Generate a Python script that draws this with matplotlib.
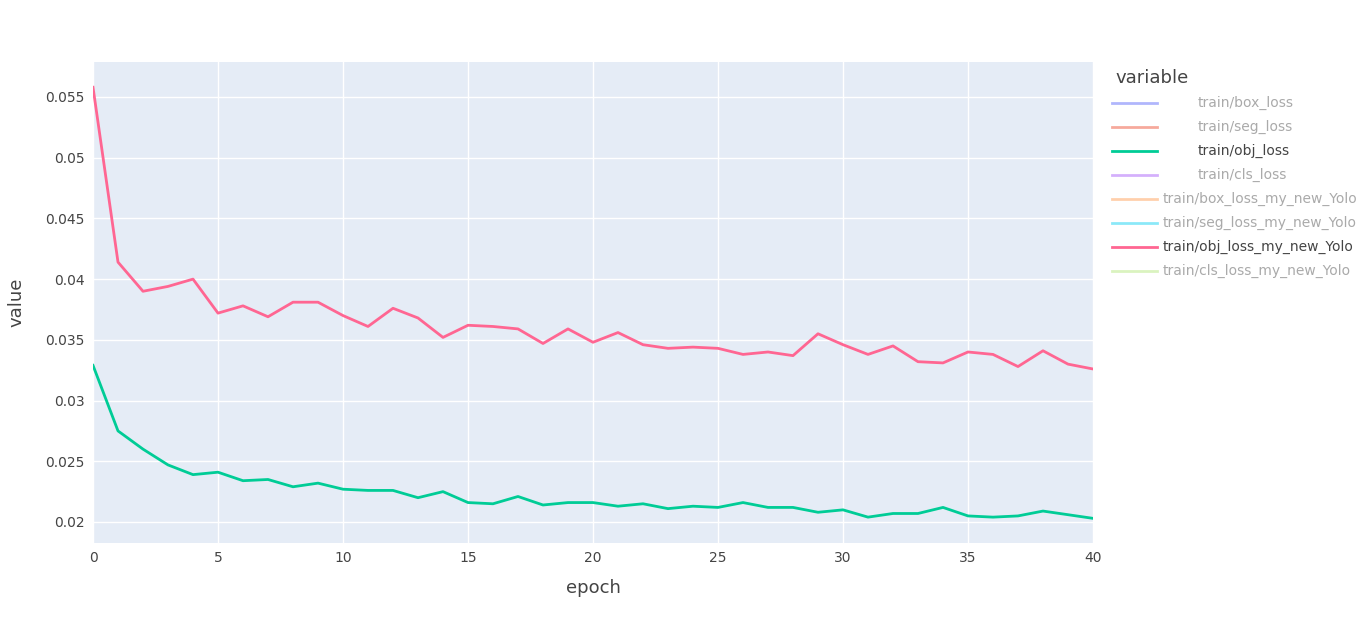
import matplotlib
matplotlib.use("Agg")
import matplotlib.pyplot as plt
from matplotlib.lines import Line2D

epochs = list(range(41))
obj_loss = [0.0329,0.0275,0.0260,0.0247,0.0239,0.0241,0.0234,0.0235,0.0229,0.0232,0.0227,0.0226,0.0226,0.0220,0.0225,0.0216,0.0215,0.0221,0.0214,0.0216,0.0216,0.0213,0.0215,0.0211,0.0213,0.0212,0.0216,0.0212,0.0212,0.0208,0.0210,0.0204,0.0207,0.0207,0.0212,0.0205,0.0204,0.0205,0.0209,0.0206,0.0203]
obj_loss_new = [0.0558,0.0414,0.0390,0.0394,0.0400,0.0372,0.0378,0.0369,0.0381,0.0381,0.0370,0.0361,0.0376,0.0368,0.0352,0.0362,0.0361,0.0359,0.0347,0.0359,0.0348,0.0356,0.0346,0.0343,0.0344,0.0343,0.0338,0.0340,0.0337,0.0355,0.0346,0.0338,0.0345,0.0332,0.0331,0.0340,0.0338,0.0328,0.0341,0.0330,0.0326]
legend_labels = ["train/box_loss","train/seg_loss","train/obj_loss","train/cls_loss",
                 "train/box_loss_my_new_Yolo","train/seg_loss_my_new_Yolo",
                 "train/obj_loss_my_new_Yolo","train/cls_loss_my_new_Yolo"]
legend_colors = ["#636efa","#EF553B","#00cc96","#ab63fa","#FFA15A","#19d3f3","#FF6692","#B6E880"]
visible = [False,False,True,False,False,False,True,False]
yticks = [0.02,0.025,0.03,0.035,0.04,0.045,0.05,0.055]

W,H = 1368,623
fig = plt.figure(figsize=(W/100,H/100),dpi=100)
ax = fig.add_axes([93/W,1-543/H,1000/W,481/H])
ax.set_facecolor("#E5ECF6")
ax.plot(epochs,obj_loss,color="#00cc96",lw=2)
ax.plot(epochs,obj_loss_new,color="#FF6692",lw=2)
ax.set_xlim(0,40)
ax.set_ylim(0.01827,0.05788)
ax.set_xticks(range(0,41,5))
ax.set_yticks(yticks)
ax.set_yticklabels([f"{v:g}" for v in yticks])
ax.grid(True,color="white",lw=1)
ax.set_axisbelow(True)
for s in ax.spines.values(): s.set_visible(False)
ax.tick_params(length=0,labelsize=10,colors="#444444",pad=6)
ax.set_xlabel("epoch",fontsize=13,color="#444444",labelpad=10)
ax.set_ylabel("value",fontsize=13,color="#444444",labelpad=14)

fig.text(1115/W,1-78/H,"variable",fontsize=13,color="#444444",va="center")
for i,(lab,c,v) in enumerate(zip(legend_labels,legend_colors,visible)):
    y = 1-(103+24*i)/H
    fig.add_artist(Line2D([1112/W,1157/W],[y,y],color=c,lw=2,alpha=1 if v else 0.5,transform=fig.transFigure))
    x = 1198 if "my_new" not in lab else 1163
    fig.text(x/W,y,lab,fontsize=10,color="#444444" if v else "#aaaaaa",va="center")

fig.savefig("out.png",dpi=100,facecolor="white")
